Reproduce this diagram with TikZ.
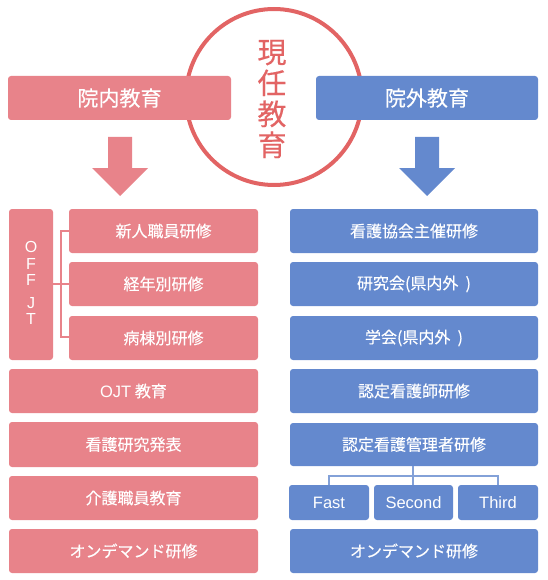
\documentclass[tikz,border=0pt]{standalone}
\usepackage{fontspec}
\setmainfont{Noto Sans CJK JP}[FakeBold=0.3]
\newfontfamily\latinf{Liberation Sans}
\definecolor{pinkc}{RGB}{232,131,138}
\definecolor{bluec}{RGB}{100,137,206}
\definecolor{redc}{RGB}{226,100,100}
\begin{document}
\begin{tikzpicture}[x=1pt,y=-1pt,
  pbox/.style={fill=pinkc,rounded corners=3pt},
  bbox/.style={fill=bluec,rounded corners=3pt},
  lbl/.style={text=white,font=\fontsize{16}{16}\selectfont,inner sep=0pt},
  latlbl/.style={text=white,font=\latinf\fontsize{16.5}{16.5}\selectfont,inner sep=0pt},
  biglbl/.style={text=white,font=\fontsize{21}{21}\selectfont,inner sep=0pt},
  plink/.style={draw=pinkc,line width=1.5pt},
  blink/.style={draw=bluec!80,line width=1.5pt}]
\useasboundingbox (0,0) rectangle (547,580);
% circle
\node[draw=redc,line width=4pt,circle,minimum size=176pt,inner sep=0pt] (circ) at (274,97) {};
% top boxes
\path[pbox] (8,76) rectangle (231,120);
\node[biglbl] (inner) at (119.5,98) {院内教育};
\path[bbox] (316,76) rectangle (538,120);
\node[biglbl] (outer) at (427,98) {院外教育};
% title
\node[text=redc,font=\fontsize{29}{31}\selectfont,align=center,inner sep=0pt] (title) at (272,99) {現\\任\\教\\育};
% arrows
\fill[pinkc] (108,137) -- (132,137) -- (132,168) -- (148,168) -- (120,196) -- (92,168) -- (108,168) -- cycle;
\fill[bluec] (415,137) -- (439,137) -- (439,168) -- (455,168) -- (427,196) -- (399,168) -- (415,168) -- cycle;
% left column
\path[pbox] (9,209) rectangle (53,360);
\node[text=white,font=\latinf\fontsize{16}{16.5}\selectfont,align=center,inner sep=0pt] (offjt) at (31,283) {O\\F\\F\\[6pt]J\\T};
\path[pbox] (69,209) rectangle (258,253);
\node[lbl] (l1) at (163.5,231) {新人職員研修};
\path[pbox] (69,262) rectangle (258,306);
\node[lbl] (l2) at (163.5,284) {経年別研修};
\path[pbox] (69,316) rectangle (258,360);
\node[lbl] (l3) at (163.5,338) {病棟別研修};
\draw[plink] (69,231) -- (61,231) -- (61,337) -- (69,337);
\draw[plink] (53,284) -- (69,284);
\path[pbox] (9,369) rectangle (258,413);
\node[lbl] (l4) at (133.5,391) {{\latinf\fontsize{16.5}{16.5}\selectfont OJT} 教育};
\path[pbox] (9,422) rectangle (258,467);
\node[lbl] (l5) at (133.5,444.5) {看護研究発表};
\path[pbox] (9,476) rectangle (258,520);
\node[lbl] (l6) at (133.5,498) {介護職員教育};
\path[pbox] (9,529) rectangle (258,573);
\node[lbl] (l7) at (133.5,551) {オンデマンド研修};
% right column
\path[bbox] (290,209) rectangle (538,253);
\node[lbl] (r1) at (414,231) {看護協会主催研修};
\path[bbox] (290,262) rectangle (538,306);
\node[lbl] (r2) at (414,284) {研究会(県内外\ \ )};
\path[bbox] (290,316) rectangle (538,360);
\node[lbl] (r3) at (414,338) {学会(県内外\ \ )};
\path[bbox] (290,369) rectangle (538,413);
\node[lbl] (r4) at (414,391) {認定看護師研修};
\path[bbox] (290,423) rectangle (538,466);
\node[lbl] (r5) at (414,444.5) {認定看護管理者研修};
\draw[blink] (413,466) -- (413,485);
\draw[blink] (329,485) -- (329,476) -- (498,476) -- (498,485);
\path[bbox] (289,485) rectangle (369,520);
\node[latlbl] (f1) at (329,502.5) {Fast};
\path[bbox] (374,485) rectangle (453,520);
\node[latlbl] (f2) at (413.5,502.5) {Second};
\path[bbox] (458,485) rectangle (538,520);
\node[latlbl] (f3) at (498,502.5) {Third};
\path[bbox] (290,529) rectangle (538,573);
\node[lbl] (r6) at (414,551) {オンデマンド研修};
\end{tikzpicture}
\end{document}
